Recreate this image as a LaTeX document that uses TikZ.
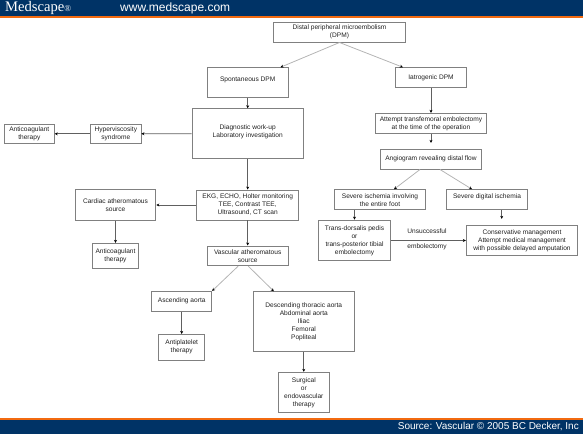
\documentclass[tikz,border=0pt]{standalone}
\usepackage{fontspec}
\setmainfont{Liberation Sans}
\newfontfamily\logofont{Liberation Serif}
\usetikzlibrary{arrows.meta}
\tikzset{
    >={Stealth[length=3pt,width=3pt,color=black]},
    flowBox/.style={draw=boxColour, line width=0.9pt, inner sep=0pt, align=center, text=textColour,
        font=\fontsize{6.6}{8}\selectfont},
    flowLink/.style={->, draw=linkColour, line width=0.7pt},
    slantLink/.style={->, draw=slantColour, line width=0.8pt},
    bandText/.style={text=white, inner sep=0pt},
}
\begin{document}
\begin{tikzpicture}[x=1pt, y=-1pt]
    \definecolor{boxColour}{HTML}{808080}
    \definecolor{textColour}{HTML}{202020}
    \definecolor{linkColour}{HTML}{606060}
    \definecolor{slantColour}{HTML}{B4B4B4}
    \definecolor{bandColour}{HTML}{003366}
    \definecolor{stripColour}{HTML}{F26A10}

    \useasboundingbox (0,0) rectangle (583,434);

    % Header and footer bands
    \fill[bandColour] (0,0) rectangle (583,16);
    \fill[stripColour] (0,16) rectangle (583,18);
    \fill[stripColour] (0,418) rectangle (583,420);
    \fill[bandColour] (0,420) rectangle (583,434);
    \node[bandText, anchor=west, font=\logofont\fontsize{14.6}{14}\selectfont] (logo) at (5,8) {Medscape\raisebox{0.5pt}{\fontsize{9}{9}\selectfont ®}};
    \node[bandText, anchor=west, font=\fontsize{12}{12}\selectfont] (site) at (120,8.5) {www.medscape.com};
    \node[bandText, anchor=east, font=\fontsize{10}{12}\selectfont] (source) at (579,426.5) {Source: Vascular © 2005 BC Decker, Inc};

    % Left branch
    \node[flowBox, minimum width=132.5pt, minimum height=19.7pt] (dpm) at (339.5,32.2) {Distal peripheral microembolism\\(DPM)};
    \node[flowBox, minimum width=80.7pt, minimum height=30pt] (spont) at (247.7,82.7) {Spontaneous DPM\\};
    \node[flowBox, minimum width=111.4pt, minimum height=50pt] (diag) at (247.7,133.7) {Diagnostic work-up\\Laboratory investigation\\[-2pt]};
    \node[flowBox, minimum width=50.3pt, minimum height=19.7pt] (hyper) at (115.8,133.8) {Hyperviscosity\\syndrome};
    \node[flowBox, minimum width=50pt, minimum height=19.7pt] (anticoagA) at (29.3,133.8) {Anticoagulant\\therapy};
    \node[flowBox, minimum width=101.7pt, minimum height=30pt] (ekg) at (247.7,205) {EKG, ECHO, Holter monitoring\\TEE, Contrast TEE,\\Ultrasound, CT scan};
    \node[flowBox, minimum width=80.7pt, minimum height=30.3pt] (cardiac) at (115.5,205) {Cardiac atheromatous\\source};
    \node[flowBox, minimum width=45.4pt, minimum height=25pt] (anticoagB) at (115.5,255.8) {Anticoagulant\\therapy};
    \node[flowBox, minimum width=80.7pt, minimum height=19.7pt] (vascular) at (247.7,255.8) {Vascular atheromatous\\source};
    \node[flowBox, minimum width=60pt, minimum height=19.7pt] (ascending) at (181.7,301.2) {Ascending aorta};
    \node[flowBox, minimum width=45.7pt, minimum height=25.7pt] (antiplatelet) at (181.7,347.2) {Antiplatelet\\therapy};
    \node[flowBox, minimum width=101pt, minimum height=60pt] (descending) at (303.8,321.7) {Descending thoracic aorta\\Abdominal aorta\\Iliac\\Femoral\\Popliteal};
    \node[flowBox, minimum width=51pt, minimum height=40pt] (surgical) at (303.8,392.3) {Surgical\\or\\endovascular\\therapy};

    % Right branch
    \node[flowBox, minimum width=71.4pt, minimum height=20pt] (iatro) at (431,77.7) {Iatrogenic DPM};
    \node[flowBox, minimum width=111.7pt, minimum height=20.4pt] (attempt) at (431,123.5) {Attempt transfemoral embolectomy\\at the time of the operation};
    \node[flowBox, minimum width=101.7pt, minimum height=19.7pt] (angio) at (431,159.2) {Angiogram revealing distal flow};
    \node[flowBox, minimum width=91.4pt, minimum height=20pt] (severe) at (380,199.7) {Severe ischemia involving\\the entire foot};
    \node[flowBox, minimum width=81.4pt, minimum height=20pt] (digital) at (487,199.7) {Severe digital ischemia\\};
    \node[flowBox, minimum width=72.4pt, minimum height=40.7pt] (trans) at (354.5,240.4) {Trans-dorsalis pedis\\or\\trans-posterior tibial\\embolectomy};
    \node[flowBox, minimum width=111.4pt, minimum height=30.4pt] (conserv) at (522,240.5) {Conservative management\\Attempt medical management\\with possible delayed amputation};

    % Straight arrows
    \foreach \from/\to in {spont/diag, diag/hyper, hyper/anticoagA, diag/ekg, ekg/cardiac, cardiac/anticoagB,
        ekg/vascular, ascending/antiplatelet, descending/surgical, iatro/attempt, trans/conserv}
        \draw[flowLink] (\from) -- (\to);

    % Diagonal arrows
    \draw[slantLink] (dpm.south) -- ([xshift=-8pt]spont.north east);
    \draw[slantLink] (dpm.south) -- ([xshift=8pt]iatro.north west);
    \draw[slantLink] ([xshift=-11pt]angio.south) -- ([xshift=14pt]severe.north);
    \draw[slantLink] ([xshift=9pt]angio.south) -- ([xshift=-15pt]digital.north);
    \draw[slantLink] ([xshift=-9.5pt]vascular.south) -- (ascending.north east);
    \draw[slantLink] ([xshift=0.5pt]vascular.south) -- ([xshift=-30pt]descending.north);

    % Arrows stopping short of their box
    \draw[flowLink, shorten >=6pt] (attempt) -- (angio);
    \draw[flowLink] (severe.south -| trans.north) -- (trans.north);
    \draw[flowLink, shorten >=6pt] ([xshift=14.7pt]digital.south) -- ([xshift=-20.3pt]conserv.north);

    % Labels on the last arrow
    \node[flowBox, draw=none] (unsuccessful) at (427,231) {Unsuccessful};
    \node[flowBox, draw=none] (embolectomy) at (427,246.3) {embolectomy};
\end{tikzpicture}
\end{document}
